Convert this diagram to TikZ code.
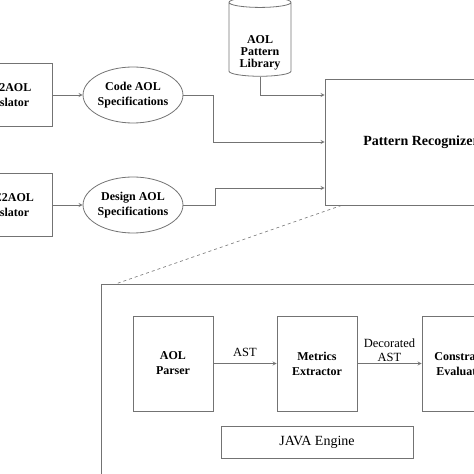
\documentclass[tikz,border=0pt]{standalone}
\usepackage{fontspec}
\setmainfont{Liberation Serif}
\usetikzlibrary{arrows,shapes,positioning,calc}
\definecolor{linegray}{RGB}{115,115,115}

\begin{document}
\begin{tikzpicture}[
    x=1pt, y=1pt,
    block/.style={rectangle, draw=linegray, line width=0.8pt, minimum width=80pt,
                 minimum height=95pt, align=center, font=\bfseries\fontsize{12}{15}\selectfont},
    spec/.style={ellipse, draw=linegray, line width=0.8pt, minimum width=98pt,
                 minimum height=56pt, inner sep=0pt, align=center, font=\bfseries\fontsize{12}{15}\selectfont},
    store/.style={cylinder, shape border rotate=90, aspect=0.25, draw=linegray, line width=0.8pt,
                 minimum width=62pt, minimum height=79pt, inner sep=0pt, align=center,
                 font=\bfseries\fontsize{12}{12}\selectfont},
    storetext/.style={align=center, yshift=-13pt, font=\bfseries\fontsize{12}{12}\selectfont},
    arr/.style={->, >=stealth, line width=0.8pt, linegray},
    lbl/.style={text=black, font=\fontsize{12.5}{14}\selectfont, align=center, inner sep=1pt}
  ]
    \useasboundingbox (0,0) rectangle (474,474);

    % upper part
    \node[block, minimum width=100pt, minimum height=63pt] (trans1) at (2, 379) {Code2AOL\\Translator};
    \node[block, minimum width=100pt, minimum height=63pt] (trans2) at (2, 269) {CASE2AOL\\Translator};
    \node[spec] (code) at (133, 379)   {Code AOL\\Specifications};
    \node[spec] (design) at (133, 269) {Design AOL\\Specifications};
    \node[store, label={[storetext]center:AOL\\Pattern\\Library}] (lib) at (260, 434.5)
        {\phantom{AOL}\\\phantom{Pattern}\\\phantom{Library}};
    \node[block, minimum width=192pt, minimum height=126pt,
          font=\bfseries\fontsize{14}{17}\selectfont] (recog) at (421, 332) {Pattern Recognizer};

    \coordinate (in1) at ($(recog.west)+(0,47)$);
    \coordinate (in3) at ($(recog.west)+(0,-46)$);

    \draw[arr] (trans1) -- (code);
    \draw[arr] (trans2) -- (design);
    \draw[arr] (lib.south) |- (in1);
    \draw[arr] (code.east) -- ++(30,0) |- (recog.west);
    \draw[arr] (design.east) -- ++(32,0) |- (in3);

    % lower part
    \node[draw=linegray, line width=0.8pt, minimum width=460pt, minimum height=220pt] (engine) at (331, 80) {};
    \draw[linegray, dashed, line width=0.6pt] ($(recog.south west)+(17,0)$) -- ($(engine.north west)+(16,0)$);

    \node[block] (parser) at (173, 110.5)  {AOL\\Parser};
    \node[block] (metrics) at (317, 110.5) {Metrics\\Extractor};
    \node[block] (constr) at (462, 110.5)  {Constraint\\Evaluator};
    \node[draw=linegray, line width=0.8pt, minimum width=192pt, minimum height=32pt,
          font=\fontsize{14}{17}\selectfont] (java) at (317, 32) {JAVA Engine};

    \draw[arr] (parser) -- node[lbl, above=5pt] {AST} (metrics);
    \draw[arr] (metrics) -- node[lbl, above] {Decorated\\AST} (constr);
  \end{tikzpicture}
\end{document}
